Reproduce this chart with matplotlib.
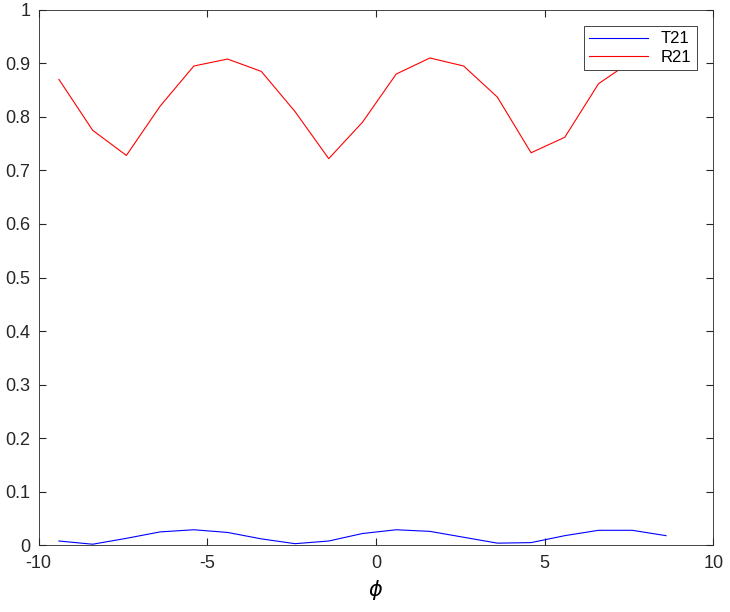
import numpy as np
import matplotlib
matplotlib.use("Agg")
import matplotlib.pyplot as plt

phi = [-9.4, -8.4, -7.4, -6.4, -5.4, -4.4, -3.4, -2.4, -1.4, -0.4,
       0.6, 1.6, 2.6, 3.6, 4.6, 5.6, 6.6, 7.6, 8.6]
T21 = [0.008, 0.002, 0.013, 0.025, 0.029, 0.024, 0.012, 0.003, 0.008, 0.022,
       0.029, 0.026, 0.015, 0.004, 0.005, 0.018, 0.028, 0.028, 0.018]
R21 = [0.87, 0.775, 0.728, 0.82, 0.895, 0.908, 0.885, 0.81, 0.722, 0.79,
       0.88, 0.91, 0.895, 0.837, 0.733, 0.762, 0.862, 0.905, 0.89]

x_ticks = [-10, -5, 0, 5, 10]
x_labels = ['-10', '-5', '0', '5', '10']
y_ticks = [0, 0.1, 0.2, 0.3, 0.4, 0.5, 0.6, 0.7, 0.8, 0.9, 1.0]
y_labels = ['0', '0.1', '0.2', '0.3', '0.4', '0.5', '0.6', '0.7', '0.8', '0.9', '1']

plt.rcParams['font.family'] = ['Liberation Sans', 'DejaVu Sans']
fig = plt.figure(figsize=(7.3, 6.12), dpi=100)
ax = fig.add_axes([0.053, 0.109, 0.924, 0.875])
ax.plot(phi, T21, color='blue', lw=0.8, label='T21')
ax.plot(phi, R21, color='red', lw=0.8, label='R21')
ax.set_xlim(-10, 10)
ax.set_ylim(0, 1)
ax.set_xticks(x_ticks)
ax.set_xticklabels(x_labels)
ax.set_yticks(y_ticks)
ax.set_yticklabels(y_labels)
ax.tick_params(direction='in', labelsize=13, colors='#262626', top=True, right=True, length=5)
ax.tick_params(axis='x', pad=7)
ax.tick_params(axis='y', pad=6)
for s in ax.spines.values():
    s.set_linewidth(0.6)
    s.set_color('#262626')
ax.set_xlabel(r'$\phi$', fontsize=15, labelpad=4)
leg = ax.legend(loc='upper right', fontsize=12, fancybox=False, framealpha=1,
                edgecolor='#262626', handlelength=3.5, borderaxespad=1.0,
                borderpad=0.3, labelspacing=0.2)
leg.get_frame().set_linewidth(0.6)
fig.savefig('out.png', dpi=100)
